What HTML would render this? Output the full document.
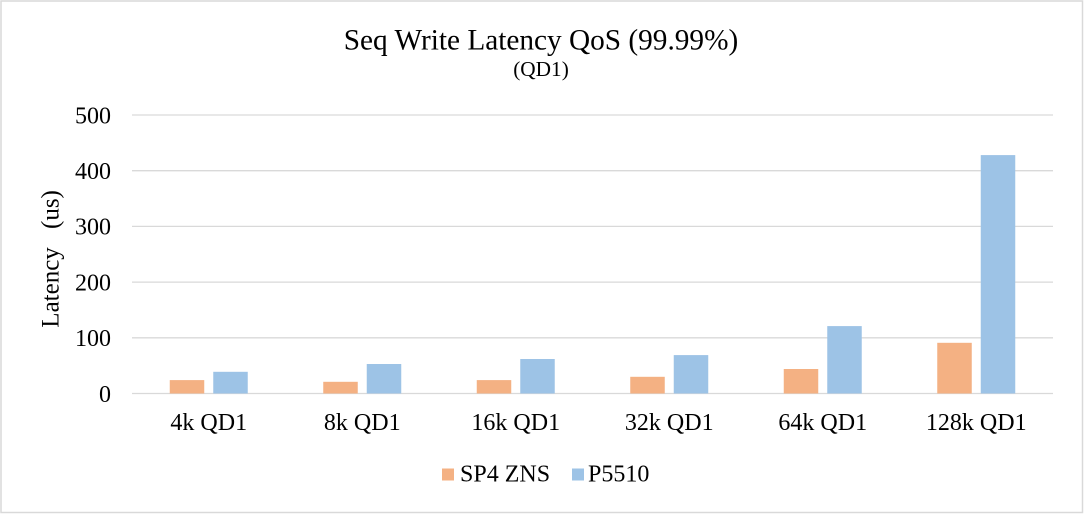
<!DOCTYPE html>
<html>
<head>
<meta charset="utf-8">
<style>
  html, body { margin: 0; padding: 0; background: #ffffff; }
  svg { display: block; }
  text { font-family: "Liberation Serif", "Times New Roman", serif; fill: #000; }
</style>
</head>
<body>
<svg width="1084" height="514" viewBox="0 0 1084 514" xmlns="http://www.w3.org/2000/svg">
  <rect x="0" y="0" width="1084" height="514" fill="#ffffff"/>
  <rect x="1" y="1" width="1081.5" height="511.5" fill="none" stroke="#d9d9d9" stroke-width="1.5"/>

  <!-- Title -->
  <text x="541" y="49.5" font-size="29.3" text-anchor="middle">Seq Write Latency QoS (99.99%)</text>
  <text x="541" y="76" font-size="21.3" text-anchor="middle">(QD1)</text>

  <!-- Gridlines -->
  <g stroke="#d9d9d9" stroke-width="1.3">
    <line x1="132" y1="115" x2="1053" y2="115"/>
    <line x1="132" y1="170.7" x2="1053" y2="170.7"/>
    <line x1="132" y1="226.4" x2="1053" y2="226.4"/>
    <line x1="132" y1="282.1" x2="1053" y2="282.1"/>
    <line x1="132" y1="337.8" x2="1053" y2="337.8"/>
    <line x1="132" y1="393.5" x2="1053" y2="393.5"/>
  </g>

  <!-- Y tick labels -->
  <g font-size="24" text-anchor="end">
    <text x="111" y="123.3">500</text>
    <text x="111" y="179">400</text>
    <text x="111" y="234.7">300</text>
    <text x="111" y="290.4">200</text>
    <text x="111" y="346.1">100</text>
    <text x="111" y="401.8">0</text>
  </g>

  <!-- Y axis title -->
  <text transform="translate(58.3,327.7) rotate(-90)" font-size="25">Latency</text>
  <text transform="translate(58.3,229) rotate(-90)" font-size="25">(us)</text>

  <!-- Bars -->
  <g fill="#F4B183">
    <rect x="169.75" y="380.1" width="34.5" height="13.4"/>
    <rect x="323.25" y="381.8" width="34.5" height="11.7"/>
    <rect x="476.75" y="380.1" width="34.5" height="13.4"/>
    <rect x="630.25" y="376.8" width="34.5" height="16.7"/>
    <rect x="783.75" y="369" width="34.5" height="24.5"/>
    <rect x="937.25" y="342.8" width="34.5" height="50.7"/>
  </g>
  <g fill="#9DC3E6">
    <rect x="213.25" y="371.8" width="34.5" height="21.7"/>
    <rect x="366.75" y="364" width="34.5" height="29.5"/>
    <rect x="520.25" y="359" width="34.5" height="34.5"/>
    <rect x="673.75" y="355.1" width="34.5" height="38.4"/>
    <rect x="827.25" y="326.1" width="34.5" height="67.4"/>
    <rect x="980.75" y="155.1" width="34.5" height="238.4"/>
  </g>

  <!-- Category labels -->
  <g font-size="24" text-anchor="middle">
    <text x="208.75" y="430">4k QD1</text>
    <text x="362.25" y="430">8k QD1</text>
    <text x="515.75" y="430">16k QD1</text>
    <text x="669.25" y="430">32k QD1</text>
    <text x="822.75" y="430">64k QD1</text>
    <text x="976.25" y="430">128k QD1</text>
  </g>

  <!-- Legend -->
  <rect x="442" y="468.5" width="12" height="12" fill="#F4B183"/>
  <text x="460" y="481.5" font-size="24">SP4 ZNS</text>
  <rect x="572" y="468.5" width="12" height="12" fill="#9DC3E6"/>
  <text x="588" y="481.5" font-size="24">P5510</text>
</svg>
</body>
</html>
